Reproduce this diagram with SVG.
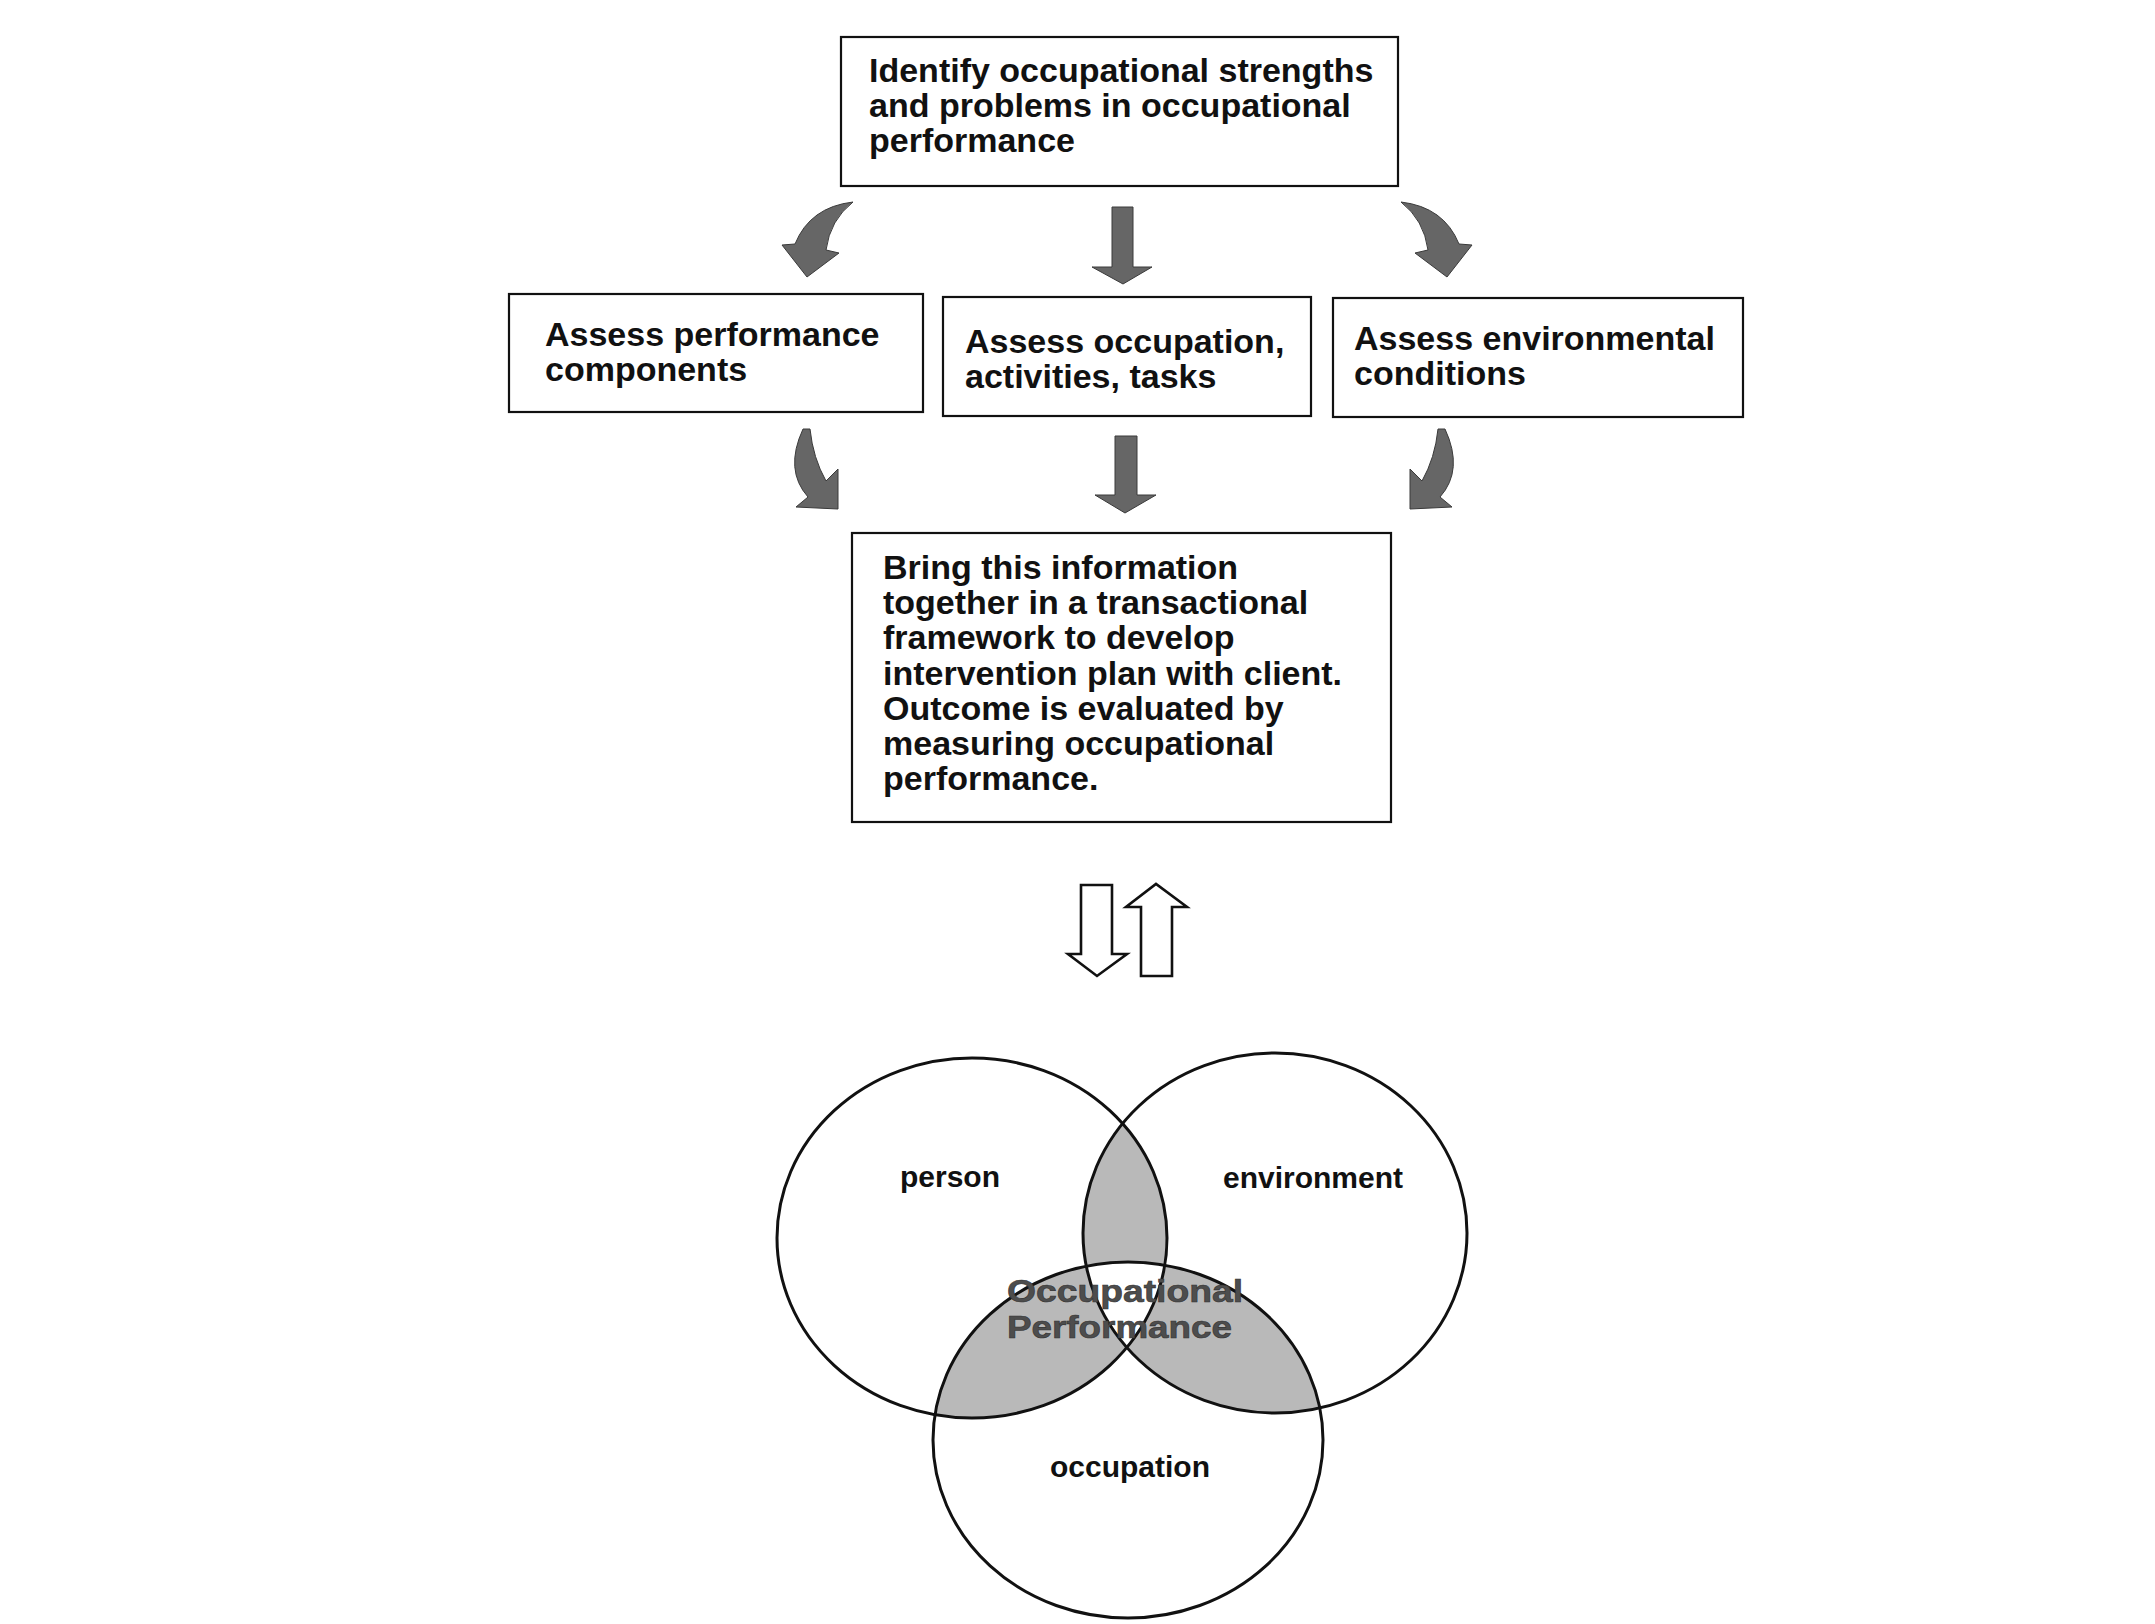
<svg xmlns="http://www.w3.org/2000/svg" width="2155" height="1624" viewBox="0 0 2155 1624">
<defs>
<style>
.box{fill:#fff;stroke:#111;stroke-width:2.2}
.t{font-family:"Liberation Sans",Arial,sans-serif;font-weight:bold;font-size:34px;fill:#111}
.lbl{font-family:"Liberation Sans",Arial,sans-serif;font-weight:bold;font-size:30px;fill:#111}
.op{font-family:"Liberation Sans",Arial,sans-serif;font-weight:bold;font-size:32px;fill:#4d4d4d;stroke:#333;stroke-width:0.6}
.dark{fill:#666;stroke:#3a3a3a;stroke-width:1}
.hollow{fill:#fff;stroke:#111;stroke-width:2.6;stroke-linejoin:miter}
.ring{fill:none;stroke:#111;stroke-width:3}
.shade{fill:#b9b9b9}
</style>
<clipPath id="clipE"><ellipse cx="1275" cy="1233" rx="192" ry="180"/></clipPath>
<clipPath id="clipO"><ellipse cx="1128" cy="1440" rx="195" ry="178"/></clipPath>
<path id="curveTop" d="M853,202 Q810,207 795,244 L782,245 L807,277 L839,253 L826,250 Q830,220 853,202 Z"/>
<path id="curveBot" d="M803,429 Q784,470 808,497 L796,507 L838,509 L838,469 L826,481 Q813,458 810,429 Z"/>
</defs>
<rect width="2155" height="1624" fill="#fff"/>

<g id="connectors">
<use href="#curveTop" class="dark"/>
<use href="#curveTop" class="dark" transform="translate(2254,0) scale(-1,1)"/>
<path class="dark" d="M1112,207 L1133,207 L1133,267 L1152,267 L1123,284 L1092,267 L1112,267 Z"/>
<use href="#curveBot" class="dark"/>
<use href="#curveBot" class="dark" transform="translate(2248,0) scale(-1,1)"/>
<path class="dark" d="M1115,436 L1137,436 L1137,495 L1156,495 L1125,513 L1095,495 L1115,495 Z"/>
<path class="hollow" d="M1081,885 L1112,885 L1112,954 L1127,954 L1097,976 L1068,954 L1081,954 Z"/>
<path class="hollow" d="M1141,976 L1172,976 L1172,907 L1187,907 L1156,884 L1126,907 L1141,907 Z"/>
</g>

<g id="node-identify">
<rect class="box" x="841" y="37" width="557" height="149"/>
<text class="t" x="869" y="82">Identify occupational strengths</text>
<text class="t" x="869" y="117">and problems in occupational</text>
<text class="t" x="869" y="152">performance</text>
</g>

<g id="node-components">
<rect class="box" x="509" y="294" width="414" height="118"/>
<text class="t" x="545" y="346">Assess performance</text>
<text class="t" x="545" y="381">components</text>
</g>

<g id="node-occupation">
<rect class="box" x="943" y="297" width="368" height="119"/>
<text class="t" x="965" y="353">Assess occupation,</text>
<text class="t" x="965" y="388">activities, tasks</text>
</g>

<g id="node-environment">
<rect class="box" x="1333" y="298" width="410" height="119"/>
<text class="t" x="1354" y="350">Assess environmental</text>
<text class="t" x="1354" y="385">conditions</text>
</g>

<g id="node-bring">
<rect class="box" x="852" y="533" width="539" height="289"/>
<text class="t" x="883" y="579">Bring this information</text>
<text class="t" x="883" y="614">together in a transactional</text>
<text class="t" x="883" y="649">framework to develop</text>
<text class="t" x="883" y="685">intervention plan with client.</text>
<text class="t" x="883" y="720">Outcome is evaluated by</text>
<text class="t" x="883" y="755">measuring occupational</text>
<text class="t" x="883" y="790">performance.</text>
</g>

<g id="venn">
<g clip-path="url(#clipE)"><ellipse class="shade" cx="972" cy="1238" rx="195" ry="180"/></g>
<g clip-path="url(#clipO)"><ellipse class="shade" cx="972" cy="1238" rx="195" ry="180"/></g>
<g clip-path="url(#clipO)"><ellipse class="shade" cx="1275" cy="1233" rx="192" ry="180"/></g>
<g clip-path="url(#clipO)"><g clip-path="url(#clipE)"><ellipse fill="#fff" cx="972" cy="1238" rx="195" ry="180"/></g></g>
<ellipse id="circle-person" class="ring" cx="972" cy="1238" rx="195" ry="180"/>
<ellipse id="circle-environment" class="ring" cx="1275" cy="1233" rx="192" ry="180"/>
<ellipse id="circle-occupation" class="ring" cx="1128" cy="1440" rx="195" ry="178"/>
<text class="lbl" x="900" y="1187">person</text>
<text class="lbl" x="1223" y="1188">environment</text>
<text class="lbl" x="1050" y="1477">occupation</text>
<text class="op" x="1007" y="1302" textLength="236" lengthAdjust="spacingAndGlyphs">Occupational</text>
<text class="op" x="1007" y="1338" textLength="225" lengthAdjust="spacingAndGlyphs">Performance</text>
</g>
</svg>
